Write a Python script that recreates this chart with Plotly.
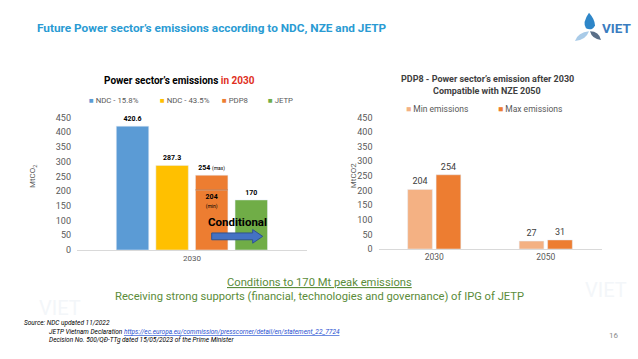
import plotly.graph_objects as go

# ---------------- data ----------------
left_category = ["2030"]
left_series = ["NDC - 15.8%", "NDC - 43.5%", "PDP8", "JETP"]
ndc_158 = [420.6]
ndc_435 = [287.3]
pdp8_min = [204]
pdp8_max = [254]
jetp = [170]

right_categories = ["2030", "2050"]
right_series = ["Min emissions", "Max emissions"]
min_emissions = [204, 27]
max_emissions = [254, 31]

y_ticks = [0, 50, 100, 150, 200, 250, 300, 350, 400, 450]

# ---------------- style ----------------
W, H = 638, 359
FONT = "Roboto, sans-serif"
C_BLUE, C_YEL, C_ORG, C_GRN = "#5b9bd5", "#ffc000", "#ed7d31", "#70ad47"
C_LORG = "#f4b183"
TICK_C = "#595959"

def px(x):
    return x / W

def py(y):
    return 1 - y / H

L_BARGAP, L_GROUPGAP = 0.311, 0.18
R_BARGAP, R_GROUPGAP = 0.49, 0.13

fig = go.Figure()

lab_font = dict(family=FONT, size=7, color="black", weight="bold")

fig.add_trace(go.Bar(name=left_series[0], x=left_category, y=ndc_158, marker_color=C_BLUE,
                     text=[f"{v}" for v in ndc_158], textposition="outside", textfont=lab_font,
                     offsetgroup="a", xaxis="x", yaxis="y", showlegend=False, cliponaxis=False))
fig.add_trace(go.Bar(name=left_series[1], x=left_category, y=ndc_435, marker_color=C_YEL,
                     text=[f"{v}" for v in ndc_435], textposition="outside", textfont=lab_font,
                     offsetgroup="b", xaxis="x", yaxis="y", showlegend=False, cliponaxis=False))
fig.add_trace(go.Bar(name=left_series[2] + " min", x=left_category, y=pdp8_min, marker_color=C_ORG,
                     text=[f"<b>{v}</b><br><span style='font-size:5px'>(min)</span>" for v in pdp8_min],
                     textposition="inside", insidetextanchor="end", textangle=0,
                     textfont=dict(family=FONT, size=7, color="black"),
                     offsetgroup="c", xaxis="x", yaxis="y", showlegend=False, cliponaxis=False))
fig.add_trace(go.Bar(name=left_series[2] + " max", x=left_category,
                     y=[mx - mn for mx, mn in zip(pdp8_max, pdp8_min)], base=pdp8_min,
                     marker_color=C_ORG,
                     text=[f"<b>{v}</b> <span style='font-size:5px'>(max)</span>" for v in pdp8_max],
                     textposition="outside", textangle=0,
                     textfont=dict(family=FONT, size=7, color="black"),
                     offsetgroup="c", xaxis="x", yaxis="y", showlegend=False, cliponaxis=False))
fig.add_trace(go.Bar(name=left_series[3], x=left_category, y=jetp, marker_color=C_GRN,
                     text=[f"{v}" for v in jetp], textposition="outside", textfont=lab_font,
                     offsetgroup="d", xaxis="x", yaxis="y", showlegend=False, cliponaxis=False))

r_lab_font = dict(family=FONT, size=9, color="#404040")
fig.add_trace(go.Bar(name=right_series[0], x=right_categories, y=min_emissions, marker_color=C_LORG,
                     text=[str(v) for v in min_emissions], textposition="outside", textfont=r_lab_font,
                     offsetgroup="m", xaxis="x2", yaxis="y2", showlegend=False, cliponaxis=False))
fig.add_trace(go.Bar(name=right_series[1], x=right_categories, y=max_emissions, marker_color=C_ORG,
                     text=[str(v) for v in max_emissions], textposition="outside", textfont=r_lab_font,
                     offsetgroup="n", xaxis="x2", yaxis="y2", showlegend=False, cliponaxis=False))

axis_common = dict(showgrid=False, zeroline=False, ticks="")

fig.update_layout(
    width=W, height=H, margin=dict(l=0, r=0, t=0, b=0),
    paper_bgcolor="white", plot_bgcolor="rgba(0,0,0,0)",
    barmode="group", bargap=L_BARGAP, bargroupgap=L_GROUPGAP,
    font=dict(family=FONT, color=TICK_C),
    xaxis=dict(domain=[px(77), px(306.8)], anchor="y", showline=True, linecolor="#d9d9d9",
               linewidth=1, tickfont=dict(family=FONT, size=8, color=TICK_C), **axis_common),
    yaxis=dict(domain=[py(252), py(115.7)], anchor="x", range=[0, 450], tickvals=y_ticks,
               showline=False, tickfont=dict(family=FONT, size=9, color=TICK_C), ticklabelstandoff=5,
               **axis_common),
    xaxis2=dict(domain=[px(378.5), px(601.5)], anchor="y2", showline=True, linecolor="#d9d9d9",
                linewidth=1, tickfont=dict(family=FONT, size=8.5, color=TICK_C), **axis_common),
    yaxis2=dict(domain=[py(251), py(115.7)], anchor="x2", range=[0, 450], tickvals=y_ticks,
                showline=False, tickfont=dict(family=FONT, size=9, color=TICK_C), ticklabelstandoff=5,
                **axis_common),
)

# right chart bar gaps: emulate via width/offset per trace
n_r = 2
slot = (1 - R_BARGAP) / n_r
for i, tr in enumerate([t for t in fig.data if t.xaxis == "x2"]):
    tr.width = slot * (1 - R_GROUPGAP)
    tr.offset = -(1 - R_BARGAP) / 2 + i * slot + slot * R_GROUPGAP / 2

# separator line inside PDP8 bar at the min value
l_slot = (1 - L_BARGAP) / 4
x0 = -(1 - L_BARGAP) / 2 + 2 * l_slot + l_slot * L_GROUPGAP / 2
x1 = x0 + l_slot * (1 - L_GROUPGAP)
fig.add_shape(type="line", xref="x", yref="y", x0=x0, x1=x1, y0=pdp8_min[0], y1=pdp8_min[0],
              line=dict(color="#b9622a", width=0.8))

ann = []
def text(x, y, s, size, color="black", bold=False, italic=False, xanchor="center", **kw):
    f = dict(family=kw.pop("family", FONT), size=size, color=color)
    if bold:
        f["weight"] = "bold"
    if italic:
        f["style"] = "italic"
    ann.append(dict(x=px(x), y=py(y), xref="paper", yref="paper", text=s, showarrow=False,
                    font=f, xanchor=xanchor, yanchor="middle", **kw))

# faint watermarks
text(60, 312, "VIET", 20, color="#f3f6f9")
text(606, 293, "VIET", 20, color="#f3f6f9")

# Page title
text(35, 24, "Future Power sector\u2019s emissions according to NDC, NZE and JETP", 11.8,
     color="#2a9bd3", bold=True, xanchor="left")

# Logo
text(600, 24, "VIET", 13.5, color="#3a7cc0", bold=True, xanchor="left")

# y axis titles
text(33, 177, "MtCO<sub>2</sub>", 8, color=TICK_C, textangle=-90)
text(353, 175, "MtCO2", 8, color=TICK_C, textangle=-90)

# left chart title and legend
text(179, 78, "Power sector\u2019s emissions <span style='color:#e0301e'>in 2030</span>", 10,
     color="black", bold=True)
left_colors = [C_BLUE, C_YEL, C_ORG, C_GRN]
left_leg_x = [87, 158, 220, 266]
for name, c, lx in zip(left_series, left_colors, left_leg_x):
    text(lx, 98, f"<span style='color:{c}'>\u25a0</span> {name}", 7.8, color=TICK_C, xanchor="left")

# right chart title and legend
text(487, 76, "PDP8 - Power sector\u2019s emission after 2030", 9, color="#404040", bold=True)
text(487, 88, "Compatible with NZE 2050", 9, color="#404040", bold=True)
right_colors = [C_LORG, C_ORG]
right_leg_x = [404, 496]
for name, c, lx in zip(right_series, right_colors, right_leg_x):
    text(lx, 107, f"<span style='color:{c}'>\u25a0</span> {name}", 8.5, color=TICK_C, xanchor="left")

# Conditional label
text(237, 223, "Conditional", 11.5, color="black", bold=True)

# Bottom texts
GRN_T = "#5b8c3a"
text(320, 285, "<u>Conditions to 170 Mt peak emissions</u>", 11.2, color=GRN_T)
text(320, 300, "Receiving strong supports (financial, technologies and governance) of IPG of JETP", 11.2, color=GRN_T)

text(22, 327, "Source: NDC updated 11/2022", 6.5, italic=True, xanchor="left")
text(47, 336, "JETP Vietnam Declaration <span style='color:#1f4fd1'><u>https://ec.europa.eu/commission/presscorner/detail/en/statement_22_7724</u></span>",
     6.5, italic=True, xanchor="left")
text(47, 345, "Decision No. 500/Q\u0110-TTg dated 15/05/2023 of the Prime Minister", 6.5, italic=True, xanchor="left")
text(613, 340, "16", 8, color="#8c8c8c")

fig.update_layout(annotations=ann)

# arrow shape (decoration) in paper coords
def P(x, y):
    return f"{px(x)},{py(y)}"
ax0, ax1, ay = 211.7, 262.7, 238
body, head, hlen = 3.5, 7, 10
path = ("M " + P(ax0, ay - body) + " L " + P(ax1 - hlen, ay - body) + " L " + P(ax1 - hlen, ay - head) +
        " L " + P(ax1, ay) + " L " + P(ax1 - hlen, ay + head) + " L " + P(ax1 - hlen, ay + body) +
        " L " + P(ax0, ay + body) + " Z")
fig.add_shape(type="path", xref="paper", yref="paper", path=path, fillcolor="#4472c4",
              line=dict(color="#2f528f", width=1))

# logo leaves
fig.add_shape(type="path", xref="paper", yref="paper",
              path="M " + P(589, 8) + " Q " + P(582, 18) + " " + P(586, 24) + " Q " + P(592, 27) + " " + P(595, 21) + " Q " + P(595, 15) + " " + P(589, 8) + " Z",
              fillcolor="#2e86c8", line=dict(width=0))
fig.add_shape(type="path", xref="paper", yref="paper",
              path="M " + P(575, 37) + " Q " + P(578, 28) + " " + P(589, 27) + " Q " + P(586, 36) + " " + P(575, 37) + " Z",
              fillcolor="#a9cbe8", line=dict(width=0))
fig.add_shape(type="path", xref="paper", yref="paper",
              path="M " + P(590, 27) + " Q " + P(599, 27) + " " + P(601, 36) + " Q " + P(592, 35) + " " + P(590, 27) + " Z",
              fillcolor="#5a6f88", line=dict(width=0))

fig.write_html("out.html", config={"displayModeBar": False},
               post_script="document.body.style.margin='0';document.body.style.overflow='hidden';")
